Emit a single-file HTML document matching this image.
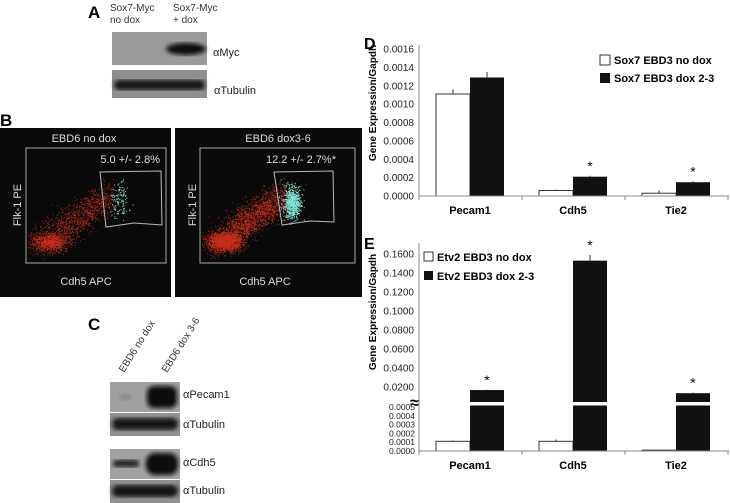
<!DOCTYPE html>
<html><head><meta charset="utf-8"><style>
html,body{margin:0;padding:0;background:#fff}
svg{display:block;font-family:"Liberation Sans",Arial,sans-serif}
</style></head><body>
<svg id="fig" width="730" height="503" viewBox="0 0 730 503">
<defs>
<filter id="blur1"><feGaussianBlur stdDeviation="2"/></filter>
</defs>
<!-- Panel A -->
<g>
<text x="88" y="18" font-size="17" font-weight="bold">A</text>
<text x="110" y="11" font-size="10" fill="#333">Sox7-Myc</text>
<text x="110" y="23" font-size="10" fill="#333">no dox</text>
<text x="173" y="11" font-size="10" fill="#333">Sox7-Myc</text>
<text x="173" y="23" font-size="10" fill="#333">+ dox</text>
<rect x="112" y="32" width="95" height="33" fill="#9a9a9a"/>
<ellipse cx="186" cy="49" rx="20" ry="6" fill="#111" filter="url(#blur1)"/>
<rect x="112" y="70" width="95" height="28" fill="#8e8e8e"/>
<rect x="114" y="80" width="91" height="10" rx="5" fill="#151515" filter="url(#blur1)"/>
<text x="213" y="56" font-size="11" fill="#222">αMyc</text>
<text x="214" y="94" font-size="11" fill="#222">αTubulin</text>
</g>
<!-- Panel B -->
<g>
<text x="0" y="126" font-size="17" font-weight="bold">B</text>
<rect x="0" y="128" width="171" height="169" fill="#0a0a0a"/>
<rect x="175" y="128" width="187" height="169" fill="#0a0a0a"/>
<rect x="26" y="148" width="140" height="115" fill="none" stroke="#aaa" stroke-width="1"/>
<rect x="200" y="148" width="155" height="115" fill="none" stroke="#aaa" stroke-width="1"/>
<g id="dots1"></g><g id="dots2"></g>
<polygon points="100,172 161,171 162,225 134,223 106,227" fill="none" stroke="#bbb"/>
<polygon points="274,172 333,171 334,222 310,221 282,225" fill="none" stroke="#bbb"/>
<text x="84" y="142" font-size="11" fill="#ddd" text-anchor="middle">EBD6 no dox</text>
<text x="278" y="142" font-size="11" fill="#ddd" text-anchor="middle">EBD6 dox3-6</text>
<text x="160" y="163" font-size="11" fill="#ddd" text-anchor="end">5.0 +/- 2.8%</text>
<text x="336" y="163" font-size="11" fill="#ddd" text-anchor="end">12.2 +/- 2.7%*</text>
<text transform="translate(21,205) rotate(-90)" font-size="11" fill="#ddd" text-anchor="middle">Flk-1 PE</text>
<text transform="translate(196,205) rotate(-90)" font-size="11" fill="#ddd" text-anchor="middle">Flk-1 PE</text>
<text x="86" y="285" font-size="11" fill="#ddd" text-anchor="middle">Cdh5 APC</text>
<text x="265" y="285" font-size="11" fill="#ddd" text-anchor="middle">Cdh5 APC</text>
</g>
<!-- Panel C -->
<g>
<text x="88" y="330" font-size="17" font-weight="bold">C</text>
<text transform="translate(124,373) rotate(-58)" font-size="10" fill="#333">EBD6 no dox</text>
<text transform="translate(167,373) rotate(-58)" font-size="10" fill="#333">EBD6 dox 3-6</text>
<rect x="110" y="382" width="70" height="30" fill="#a0a0a0"/>
<ellipse cx="125" cy="397" rx="6" ry="3" fill="#888" filter="url(#blur1)"/>
<rect x="147" y="386" width="30" height="22" rx="7" fill="#111" filter="url(#blur1)"/>
<rect x="110" y="413" width="70" height="23" fill="#909090"/>
<rect x="112" y="418" width="66" height="12" rx="6" fill="#141414" filter="url(#blur1)"/>
<rect x="110" y="449" width="70" height="30" fill="#a0a0a0"/>
<rect x="113" y="460" width="26" height="7" rx="3" fill="#222" filter="url(#blur1)"/>
<rect x="146" y="453" width="32" height="22" rx="9" fill="#0f0f0f" filter="url(#blur1)"/>
<rect x="110" y="480" width="70" height="23" fill="#909090"/>
<rect x="112" y="485" width="66" height="12" rx="6" fill="#141414" filter="url(#blur1)"/>
<text x="183" y="398" font-size="11" fill="#222">αPecam1</text>
<text x="183" y="428" font-size="11" fill="#222">αTubulin</text>
<text x="183" y="466" font-size="11" fill="#222">αCdh5</text>
<text x="183" y="494" font-size="11" fill="#222">αTubulin</text>
</g>
<!-- Panel D -->
<g id="chartD">
<text x="364" y="49" font-size="16" font-weight="bold">D</text>
<text transform="translate(376,103) rotate(-90)" font-size="10" font-weight="bold" text-anchor="middle">Gene Expression/Gapdh</text>
<rect x="600" y="55" width="10" height="10" fill="#fff" stroke="#333"/>
<text x="614" y="64" font-size="11" font-weight="bold">Sox7 EBD3 no dox</text>
<rect x="600" y="73" width="10" height="10" fill="#111"/>
<text x="614" y="82" font-size="11" font-weight="bold">Sox7 EBD3 dox 2-3</text>
</g>
<!-- Panel E -->
<g id="chartE">
<text x="364" y="249" font-size="16" font-weight="bold">E</text>
<text transform="translate(376,312) rotate(-90)" font-size="10" font-weight="bold" text-anchor="middle">Gene Expression/Gapdh</text>
<rect x="424" y="252" width="9" height="9" fill="#fff" stroke="#333"/>
<text x="437" y="261" font-size="11" font-weight="bold">Etv2 EBD3 no dox</text>
<rect x="424" y="271" width="9" height="9" fill="#111"/>
<text x="437" y="280" font-size="11" font-weight="bold">Etv2 EBD3 dox 2-3</text>
<text x="410" y="408" font-size="16" font-weight="bold">≈</text>
</g>
</svg>
<script>
var NS="http://www.w3.org/2000/svg";
function mk(p,tag,a){var e=document.createElementNS(NS,tag);for(var k in a)e.setAttribute(k,a[k]);p.appendChild(e);return e;}
// Chart D data
var catsD=["Pecam1","Cdh5","Tie2"];
var noDoxD=[0.00111,0.00006,0.00003];
var doxD=[0.00129,0.00021,0.00015];
var errNoDoxD=[0.00005,0.00001,0.00003];
var errDoxD=[0.00006,0.00001,0.00001];
var ticksD=["0.0000","0.0002","0.0004","0.0006","0.0008","0.0010","0.0012","0.0014","0.0016"];
var sigD=[false,true,true];
// Chart E data
var catsE=["Pecam1","Cdh5","Tie2"];
var noDoxE=[0.00011,0.00011,0.00001];
var doxE=[0.0168,0.153,0.0135];
var errNoDoxE=[0.00001,0.00002,0.000003];
var errDoxE=[0.0003,0.006,0.0006];
var ticksElow=["0.0000","0.0001","0.0002","0.0003","0.0004","0.0005"];
var ticksEhigh=["0.0200","0.0400","0.0600","0.0800","0.1000","0.1200","0.1400","0.1600"];
var sigE=[true,true,true];

var X0=419,X1=729,BW=34;
function xc(i){return 470+i*103;}
function yD(v){return 196-v/0.0016*147;}
function yE(v){return v<=0.0005?451-v/0.0005*44:406-v/0.02*19;}

function drawChart(g,cats,a,b,ea,eb,yf,base,sig){
  for(var i=0;i<cats.length;i++){
    var c=xc(i);
    var w=mk(g,"rect",{x:c-BW,y:yf(a[i]),width:BW,height:base-yf(a[i]),fill:"#fff",stroke:"#333","stroke-width":1});
    
    
    var k=mk(g,"rect",{x:c,y:yf(b[i]),width:BW,height:base-yf(b[i]),fill:"#111"});
    
    
    var l1=mk(g,"line",{x1:c-BW/2,x2:c-BW/2,y1:yf(a[i]),y2:yf(a[i]+ea[i]),stroke:"#333"});
    
    
    var l2=mk(g,"line",{x1:c+BW/2,x2:c+BW/2,y1:yf(b[i]),y2:yf(b[i]+eb[i]),stroke:"#333"});
    
    
    var t=mk(g,"text",{x:c,y:base+18,"font-size":11,"font-weight":"bold","text-anchor":"middle"});
    t.textContent=cats[i];
    
    
    if(sig[i]){var s=mk(g,"text",{x:c+BW/2,y:yf(b[i]+eb[i])-5,"font-size":14,"text-anchor":"middle"});s.textContent="*";
      
      }
  }
  var ax=mk(g,"line",{x1:X0,x2:X1,y1:base,y2:base,stroke:"#888"});
  
  
  for(var j=0;j<=3;j++){var tk=mk(g,"line",{x1:X0+j*103,x2:X0+j*103,y1:base,y2:base+4,stroke:"#888"});
    
    }
}
var gD=document.getElementById("chartD");
var ay=mk(gD,"line",{x1:X0,x2:X0,y1:45,y2:196,stroke:"#888"});


ticksD.forEach(function(t){var v=parseFloat(t);
  var e=mk(gD,"text",{x:X0-5,y:yD(v)+3.5,"font-size":10,"text-anchor":"end",fill:"#222"});e.textContent=t;
  
  });
drawChart(gD,catsD,noDoxD,doxD,errNoDoxD,errDoxD,yD,196,sigD);

var gE=document.getElementById("chartE");
var ay2=mk(gE,"line",{x1:X0,x2:X0,y1:243,y2:451,stroke:"#888"});


ticksElow.forEach(function(t){var v=parseFloat(t);
  var e=mk(gE,"text",{x:X0-4,y:yE(v)+3,"font-size":8.5,"text-anchor":"end",fill:"#222"});e.textContent=t;
  
  });
ticksEhigh.forEach(function(t){var v=parseFloat(t);
  var e=mk(gE,"text",{x:X0-5,y:yE(v)+3.5,"font-size":10,"text-anchor":"end",fill:"#222"});e.textContent=t;
  
  });
drawChart(gE,catsE,noDoxE,doxE,errNoDoxE,errDoxE,yE,451,sigE);
var gap=mk(gE,"rect",{x:X0+1,y:402,width:X1-X0,height:3.5,fill:"#fff"});



// flow cytometry clouds (decorative texture)
var seed=7;function rnd(){seed=(seed*16807)%2147483647;return seed/2147483647;}
function gauss(){return (rnd()+rnd()+rnd()+rnd()-2)/1.2;}
function cloud(id,ox,n,ng,gx,gy,gs){
  var g=document.getElementById(id);var h="";
  for(var i=0;i<n;i++){var x,y;var r=rnd();
    if(r<0.4){x=ox+50+gauss()*18;y=242+gauss()*9;}
    else{var t=rnd();x=ox+40+t*70+gauss()*18;y=245-t*50+gauss()*16;}
    if(y>262||x<ox+27)continue;
    h+='<rect x="'+x.toFixed(1)+'" y="'+y.toFixed(1)+'" width="1" height="1" fill="#c8301c" opacity="0.75"/>';}
  for(var j=0;j<ng;j++){var x2=gx+gauss()*gs;var y2=gy+gauss()*gs*1.8;
    h+='<rect x="'+x2.toFixed(1)+'" y="'+y2.toFixed(1)+'" width="1" height="1" fill="#7fe8d8"/>';}
  g.innerHTML=h;
}
cloud("dots1",0,1800,110,120,200,10);
cloud("dots2",175,3200,650,292,203,9);
</script>
</body></html>
